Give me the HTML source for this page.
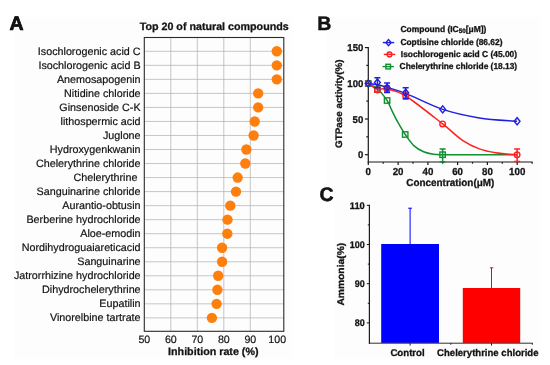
<!DOCTYPE html>
<html lang="en"><head><meta charset="utf-8"><title>Figure</title>
<style>
html,body{margin:0;padding:0;background:#fff;}
body{width:550px;height:365px;overflow:hidden;}
svg{display:block;filter:blur(0.35px);}
text{font-family:"Liberation Sans", Arial, sans-serif;fill:#141414;text-rendering:geometricPrecision;}
.b{font-weight:bold;}
.hv,.hv text{stroke:#141414;stroke-width:0.3px;}
</style></head><body>
<svg width="550" height="365" viewBox="0 0 550 365">
<rect x="0" y="0" width="550" height="365" fill="#ffffff"/>
<g fill="#fdfdfd"><rect x="13.7" y="17" width="277.8" height="342"/><rect x="326" y="17" width="213.5" height="178"/><rect x="334.5" y="195" width="205" height="164"/></g>
<text class="b" x="9.4" y="29.8" font-size="19.5" fill="#000" stroke="#000" stroke-width="0.7">A</text>
<text class="b" x="317.3" y="29.8" font-size="19.5" fill="#000" stroke="#000" stroke-width="0.4">B</text>
<text class="b" x="319.4" y="201.1" font-size="19.5" fill="#000" stroke="#000" stroke-width="0.5">C</text>
<g id="panelA">
<text class="b hv" x="214.2" y="30.3" font-size="10.65" text-anchor="middle" textLength="149" lengthAdjust="spacingAndGlyphs">Top 20 of natural compounds</text>
<g stroke="#a8a8a8" stroke-width="0.65" fill="none">
<line x1="170.8" y1="37.5" x2="170.8" y2="331.3"/>
<line x1="197.3" y1="37.5" x2="197.3" y2="331.3"/>
<line x1="223.8" y1="37.5" x2="223.8" y2="331.3"/>
<line x1="250.3" y1="37.5" x2="250.3" y2="331.3"/>
<line x1="144.3" y1="51.30" x2="283.8" y2="51.30"/>
<line x1="144.3" y1="65.33" x2="283.8" y2="65.33"/>
<line x1="144.3" y1="79.36" x2="283.8" y2="79.36"/>
<line x1="144.3" y1="93.39" x2="283.8" y2="93.39"/>
<line x1="144.3" y1="107.42" x2="283.8" y2="107.42"/>
<line x1="144.3" y1="121.45" x2="283.8" y2="121.45"/>
<line x1="144.3" y1="135.48" x2="283.8" y2="135.48"/>
<line x1="144.3" y1="149.51" x2="283.8" y2="149.51"/>
<line x1="144.3" y1="163.54" x2="283.8" y2="163.54"/>
<line x1="144.3" y1="177.57" x2="283.8" y2="177.57"/>
<line x1="144.3" y1="191.60" x2="283.8" y2="191.60"/>
<line x1="144.3" y1="205.63" x2="283.8" y2="205.63"/>
<line x1="144.3" y1="219.66" x2="283.8" y2="219.66"/>
<line x1="144.3" y1="233.69" x2="283.8" y2="233.69"/>
<line x1="144.3" y1="247.72" x2="283.8" y2="247.72"/>
<line x1="144.3" y1="261.75" x2="283.8" y2="261.75"/>
<line x1="144.3" y1="275.78" x2="283.8" y2="275.78"/>
<line x1="144.3" y1="289.81" x2="283.8" y2="289.81"/>
<line x1="144.3" y1="303.84" x2="283.8" y2="303.84"/>
<line x1="144.3" y1="317.87" x2="283.8" y2="317.87"/>
</g>
<rect x="144.3" y="37.5" width="139.5" height="293.8" fill="none" stroke="#2a2a2a" stroke-width="1.1"/>
<g fill="#ff7f0e">
<circle cx="276.8" cy="51.30" r="5.2"/>
<circle cx="276.8" cy="65.33" r="5.2"/>
<circle cx="276.8" cy="79.36" r="5.2"/>
<circle cx="258.2" cy="93.39" r="5.2"/>
<circle cx="258.2" cy="107.42" r="5.2"/>
<circle cx="254.7" cy="121.45" r="5.2"/>
<circle cx="253.6" cy="135.48" r="5.2"/>
<circle cx="246.4" cy="149.51" r="5.2"/>
<circle cx="245.3" cy="163.54" r="5.2"/>
<circle cx="237.7" cy="177.57" r="5.2"/>
<circle cx="236.0" cy="191.60" r="5.2"/>
<circle cx="230.3" cy="205.63" r="5.2"/>
<circle cx="227.5" cy="219.66" r="5.2"/>
<circle cx="227.3" cy="233.69" r="5.2"/>
<circle cx="222.1" cy="247.72" r="5.2"/>
<circle cx="222.1" cy="261.75" r="5.2"/>
<circle cx="218.2" cy="275.78" r="5.2"/>
<circle cx="217.4" cy="289.81" r="5.2"/>
<circle cx="216.6" cy="303.84" r="5.2"/>
<circle cx="211.9" cy="317.87" r="5.2"/>
</g>
<g font-size="10.75" text-anchor="end" stroke="#141414" stroke-width="0.2">
<text x="140.6" y="54.80">Isochlorogenic acid C</text>
<text x="140.6" y="68.83">Isochlorogenic acid B</text>
<text x="140.6" y="82.86">Anemosapogenin</text>
<text x="140.6" y="96.89">Nitidine chloride</text>
<text x="140.6" y="110.92">Ginsenoside C-K</text>
<text x="140.6" y="124.95">lithospermic acid</text>
<text x="140.6" y="138.98">Juglone</text>
<text x="140.6" y="153.01">Hydroxygenkwanin</text>
<text x="140.6" y="167.04">Chelerythrine chloride</text>
<text x="137.4" y="181.07">Chelerythrine</text>
<text x="140.6" y="195.10">Sanguinarine chloride</text>
<text x="140.6" y="209.13">Aurantio-obtusin</text>
<text x="140.6" y="223.16">Berberine hydrochloride</text>
<text x="140.6" y="237.19">Aloe-emodin</text>
<text x="140.6" y="251.22">Nordihydroguaiareticacid</text>
<text x="140.6" y="265.25">Sanguinarine</text>
<text x="140.6" y="279.28">Jatrorrhizine hydrochloride</text>
<text x="140.6" y="293.31">Dihydrochelerythrine</text>
<text x="140.6" y="307.34">Eupatilin</text>
<text x="140.6" y="321.37">Vinorelbine tartrate</text>
</g>
<g font-size="10.65" text-anchor="middle" stroke="#141414" stroke-width="0.2">
<text x="144.3" y="343.0">50</text>
<text x="170.8" y="343.0">60</text>
<text x="197.3" y="343.0">70</text>
<text x="223.8" y="343.0">80</text>
<text x="250.3" y="343.0">90</text>
<text x="277.2" y="343.0">100</text>
</g>
<text class="b hv" x="213.3" y="355.2" font-size="10.65" text-anchor="middle" textLength="90.4" lengthAdjust="spacingAndGlyphs">Inhibition rate (%)</text>
</g>
<g id="panelB">
<g stroke="#1a1a1a" stroke-width="1.2" fill="none" stroke-linecap="butt">
<path d="M368.3 47.0 V162.6"/>
<path d="M367.7 162 H532.6"/>
<path d="M368.3 47.6 h-3.4"/>
<path d="M368.3 83.3 h-3.4"/>
<path d="M368.3 119.0 h-3.4"/>
<path d="M368.3 154.7 h-3.4"/>
<path d="M368.3 65.4 h-2"/>
<path d="M368.3 101.1 h-2"/>
<path d="M368.3 136.8 h-2"/>
<path d="M368.3 162 v2.9"/>
<path d="M398.1 162 v2.9"/>
<path d="M427.9 162 v2.9"/>
<path d="M457.6 162 v2.9"/>
<path d="M487.4 162 v2.9"/>
<path d="M517.2 162 v2.9"/>
<path d="M383.2 162 v1.7"/>
<path d="M413.0 162 v1.7"/>
<path d="M442.8 162 v1.7"/>
<path d="M472.5 162 v1.7"/>
<path d="M502.3 162 v1.7"/>
<path d="M532.1 162 v1.7"/>
</g>
<g class="b hv" font-size="9.8" text-anchor="end">
<text x="363.3" y="51.2" textLength="16.0" lengthAdjust="spacingAndGlyphs">150</text>
<text x="363.3" y="86.9" textLength="16.0" lengthAdjust="spacingAndGlyphs">100</text>
<text x="363.3" y="122.6" textLength="10.7" lengthAdjust="spacingAndGlyphs">50</text>
<text x="363.3" y="158.3" textLength="5.3" lengthAdjust="spacingAndGlyphs">0</text>
</g>
<g class="b hv" font-size="10.2" text-anchor="middle">
<text x="368.3" y="175.2" textLength="5.4" lengthAdjust="spacingAndGlyphs">0</text>
<text x="398.1" y="175.2" textLength="10.8" lengthAdjust="spacingAndGlyphs">20</text>
<text x="427.9" y="175.2" textLength="10.8" lengthAdjust="spacingAndGlyphs">40</text>
<text x="457.6" y="175.2" textLength="10.8" lengthAdjust="spacingAndGlyphs">60</text>
<text x="487.4" y="175.2" textLength="10.8" lengthAdjust="spacingAndGlyphs">80</text>
<text x="517.2" y="175.2" textLength="16.2" lengthAdjust="spacingAndGlyphs">100</text>
</g>
<text class="b hv" x="450.3" y="185.8" font-size="10.2" text-anchor="middle" textLength="88.1" lengthAdjust="spacingAndGlyphs">Concentration(μM)</text>
<text class="b hv" transform="translate(341.9 103.65) rotate(-90)" font-size="9.5" text-anchor="middle" textLength="88.5" lengthAdjust="spacingAndGlyphs">GTPase activity(%)</text>
<g fill="none" stroke-width="1.5" stroke-linejoin="round">
<path stroke="#109030" d="M368.3 83.5 C369.8 84.4 374.3 86.0 377.4 88.8 C380.5 91.6 384.7 97.0 387.1 100.5 C389.5 104.0 389.8 106.3 391.6 109.9 C393.4 113.5 395.5 118.1 397.8 122.2 C400.1 126.3 402.5 130.6 405.2 134.5 C407.9 138.4 410.7 142.7 413.8 145.6 C416.9 148.5 420.3 150.3 423.6 151.7 C426.9 153.1 430.3 153.7 433.5 154.2 C436.7 154.7 441.1 154.6 442.6 154.7 L517.1 154.7"/>
<path stroke="#ff2020" d="M368.3 83.5 C369.8 84.5 374.3 88.3 377.4 89.2 C380.5 90.1 382.3 87.9 387.0 89.0 C391.7 90.1 396.4 90.2 405.7 96.0 C415.0 101.8 433.1 116.5 442.6 123.9 C452.1 131.3 456.8 136.5 462.9 140.7 C469.0 144.9 473.8 146.9 479.3 148.9 C484.8 150.9 489.4 151.8 495.7 152.8 C502.0 153.8 513.5 154.5 517.1 154.8"/>
<path stroke="#2020e0" d="M368.3 83.5 C369.8 83.7 374.3 84.1 377.4 84.8 C380.5 85.5 382.4 86.0 387.1 87.4 C391.8 88.8 396.4 89.7 405.7 93.4 C415.0 97.1 430.4 105.3 442.7 109.4 C455.0 113.5 466.9 115.9 479.3 117.9 C491.7 119.9 510.8 120.7 517.1 121.3"/>
</g>
<rect x="365.6" y="80.8" width="5.4" height="5.4" stroke="#109030" stroke-width="1.4" fill="none"/>
<rect x="374.7" y="86.9" width="5.4" height="5.4" stroke="#109030" stroke-width="1.4" fill="none"/>
<rect x="384.4" y="97.8" width="5.4" height="5.4" stroke="#109030" stroke-width="1.4" fill="none"/>
<rect x="402.5" y="131.8" width="5.4" height="5.4" stroke="#109030" stroke-width="1.4" fill="none"/>
<rect x="439.9" y="152.0" width="5.4" height="5.4" stroke="#109030" stroke-width="1.4" fill="none"/>
<path stroke="#109030" stroke-width="1.5" fill="none" d="M442.6 148.9 V161.8 M439.6 148.9 h6.0 M439.6 161.8 h6.0"/>
<circle cx="368.3" cy="83.5" r="2.8" stroke="#ff2020" stroke-width="1.4" fill="none"/>
<circle cx="377.4" cy="90.0" r="2.8" stroke="#ff2020" stroke-width="1.4" fill="none"/>
<circle cx="387.0" cy="88.9" r="2.8" stroke="#ff2020" stroke-width="1.4" fill="none"/>
<circle cx="405.7" cy="96.0" r="2.8" stroke="#ff2020" stroke-width="1.4" fill="none"/>
<circle cx="442.6" cy="123.9" r="2.8" stroke="#ff2020" stroke-width="1.4" fill="none"/>
<circle cx="517.1" cy="154.8" r="2.8" stroke="#ff2020" stroke-width="1.4" fill="none"/>
<path stroke="#ff2020" stroke-width="1.5" fill="none" d="M377.4 87.5 V92.3 M374.4 87.5 h6.0 M374.4 92.3 h6.0"/>
<path stroke="#ff2020" stroke-width="1.5" fill="none" d="M387.0 86.0 V92.2 M384.0 86.0 h6.0 M384.0 92.2 h6.0"/>
<path stroke="#ff2020" stroke-width="1.5" fill="none" d="M405.7 93.3 V98.9 M402.7 93.3 h6.0 M402.7 98.9 h6.0"/>
<path stroke="#ff2020" stroke-width="1.5" fill="none" d="M517.1 148.9 V161.4 M514.1 148.9 h6.0 M514.1 161.4 h6.0"/>
<path stroke="#2020e0" stroke-width="1.4" fill="none" d="M365.4 83.5 L368.3 79.9 L371.2 83.5 L368.3 87.1 Z"/>
<path stroke="#2020e0" stroke-width="1.4" fill="none" d="M374.5 82.5 L377.4 78.9 L380.3 82.5 L377.4 86.1 Z"/>
<path stroke="#2020e0" stroke-width="1.4" fill="none" d="M384.2 87.8 L387.1 84.2 L390.0 87.8 L387.1 91.4 Z"/>
<path stroke="#2020e0" stroke-width="1.4" fill="none" d="M402.8 92.8 L405.7 89.2 L408.6 92.8 L405.7 96.4 Z"/>
<path stroke="#2020e0" stroke-width="1.4" fill="none" d="M439.8 109.4 L442.7 105.8 L445.6 109.4 L442.7 113.0 Z"/>
<path stroke="#2020e0" stroke-width="1.4" fill="none" d="M514.2 121.3 L517.1 117.7 L520.0 121.3 L517.1 124.9 Z"/>
<path stroke="#2020e0" stroke-width="1.5" fill="none" d="M377.4 77.7 V87.8 M374.4 77.7 h6.0 M374.4 87.8 h6.0"/>
<path stroke="#2020e0" stroke-width="1.5" fill="none" d="M387.1 83.0 V92.6 M384.1 83.0 h6.0 M384.1 92.6 h6.0"/>
<path stroke="#2020e0" stroke-width="1.5" fill="none" d="M405.7 87.8 V98.5 M402.7 87.8 h6.0 M402.7 98.5 h6.0"/>
<text class="b hv" x="400.5" y="31.9" font-size="8.6" textLength="85.9" lengthAdjust="spacingAndGlyphs">Compound (IC<tspan font-size="6.4" dy="1.5">50</tspan><tspan dy="-1.5">[μM])</tspan></text>
<path stroke="#2020e0" stroke-width="1.4" d="M382.8 42.6 H394.2"/>
<path stroke="#2020e0" stroke-width="1.4" fill="none" d="M385.9 42.6 L388.5 39.6 L391.1 42.6 L388.5 45.6 Z"/>
<text class="b hv" x="400.4" y="45.3" font-size="8.6" textLength="102.1" lengthAdjust="spacingAndGlyphs">Coptisine chloride (86.62)</text>
<path stroke="#ff2020" stroke-width="1.4" d="M383.8 54.4 H395.2"/>
<circle cx="389.5" cy="54.4" r="2.4" stroke="#ff2020" stroke-width="1.4" fill="none"/>
<text class="b hv" x="400.8" y="57.1" font-size="8.6" textLength="116.3" lengthAdjust="spacingAndGlyphs">Isochlorogenic acid C (45.00)</text>
<path stroke="#109030" stroke-width="1.4" d="M382.5 66.6 H393.9"/>
<rect x="385.9" y="64.3" width="4.6" height="4.6" stroke="#109030" stroke-width="1.4" fill="none"/>
<text class="b hv" x="399.6" y="69.3" font-size="8.6" textLength="117.5" lengthAdjust="spacingAndGlyphs">Chelerythrine chloride (18.13)</text>
</g>
<g id="panelC">
<rect x="381.2" y="244.0" width="57.8" height="98.9" fill="#0000ff"/>
<rect x="462.8" y="288.0" width="57.4" height="54.9" fill="#ff0000"/>
<path stroke="#0000ff" stroke-width="1" fill="none" d="M410.1 244.3 V208.2 M408.2 208.2 h3.8"/>
<path stroke="#ff0000" stroke-width="1" fill="none" d="M491.5 288.1 V267.8 M489.9 267.8 h3.4"/>
<g stroke="#1a1a1a" stroke-width="1.2" fill="none">
<path d="M369.4 204.8 V343.7"/>
<path stroke-width="0.9" d="M368.9 343.2 H532.8"/>
<path stroke-width="1" d="M369.4 205.3 h-2.6"/>
<path stroke-width="1" d="M369.4 244.5 h-2.6"/>
<path stroke-width="1" d="M369.4 283.7 h-2.6"/>
<path stroke-width="1" d="M369.4 322.9 h-2.6"/>
<path stroke-width="1" d="M369.4 224.9 h-1.6"/>
<path stroke-width="1" d="M369.4 264.1 h-1.6"/>
<path stroke-width="1" d="M369.4 303.3 h-1.6"/>
<path stroke-width="1" d="M410.1 343.2 v2.4"/>
<path stroke-width="1" d="M491.5 343.2 v2.4"/>
<path stroke-width="1" d="M450.8 343.2 v1.5"/>
<path stroke-width="1" d="M532.3 343.2 v1.5"/>
</g>
<g class="b hv" font-size="9.6" text-anchor="end">
<text x="364.8" y="208.8" textLength="15.0" lengthAdjust="spacingAndGlyphs">110</text>
<text x="364.8" y="248.0" textLength="15.0" lengthAdjust="spacingAndGlyphs">100</text>
<text x="364.8" y="287.2" textLength="10.0" lengthAdjust="spacingAndGlyphs">90</text>
<text x="364.8" y="326.4" textLength="10.0" lengthAdjust="spacingAndGlyphs">80</text>
</g>
<text class="b hv" x="407.55" y="356.4" font-size="9.8" text-anchor="middle" textLength="34.3" lengthAdjust="spacingAndGlyphs">Control</text>
<text class="b hv" x="487.8" y="356.4" font-size="9.8" text-anchor="middle" textLength="101.4" lengthAdjust="spacingAndGlyphs">Chelerythrine chloride</text>
<text class="b hv" transform="translate(343.7 274.2) rotate(-90)" font-size="9.7" text-anchor="middle" textLength="62.8" lengthAdjust="spacingAndGlyphs">Ammonia(%)</text>
</g>
</svg>
</body></html>
